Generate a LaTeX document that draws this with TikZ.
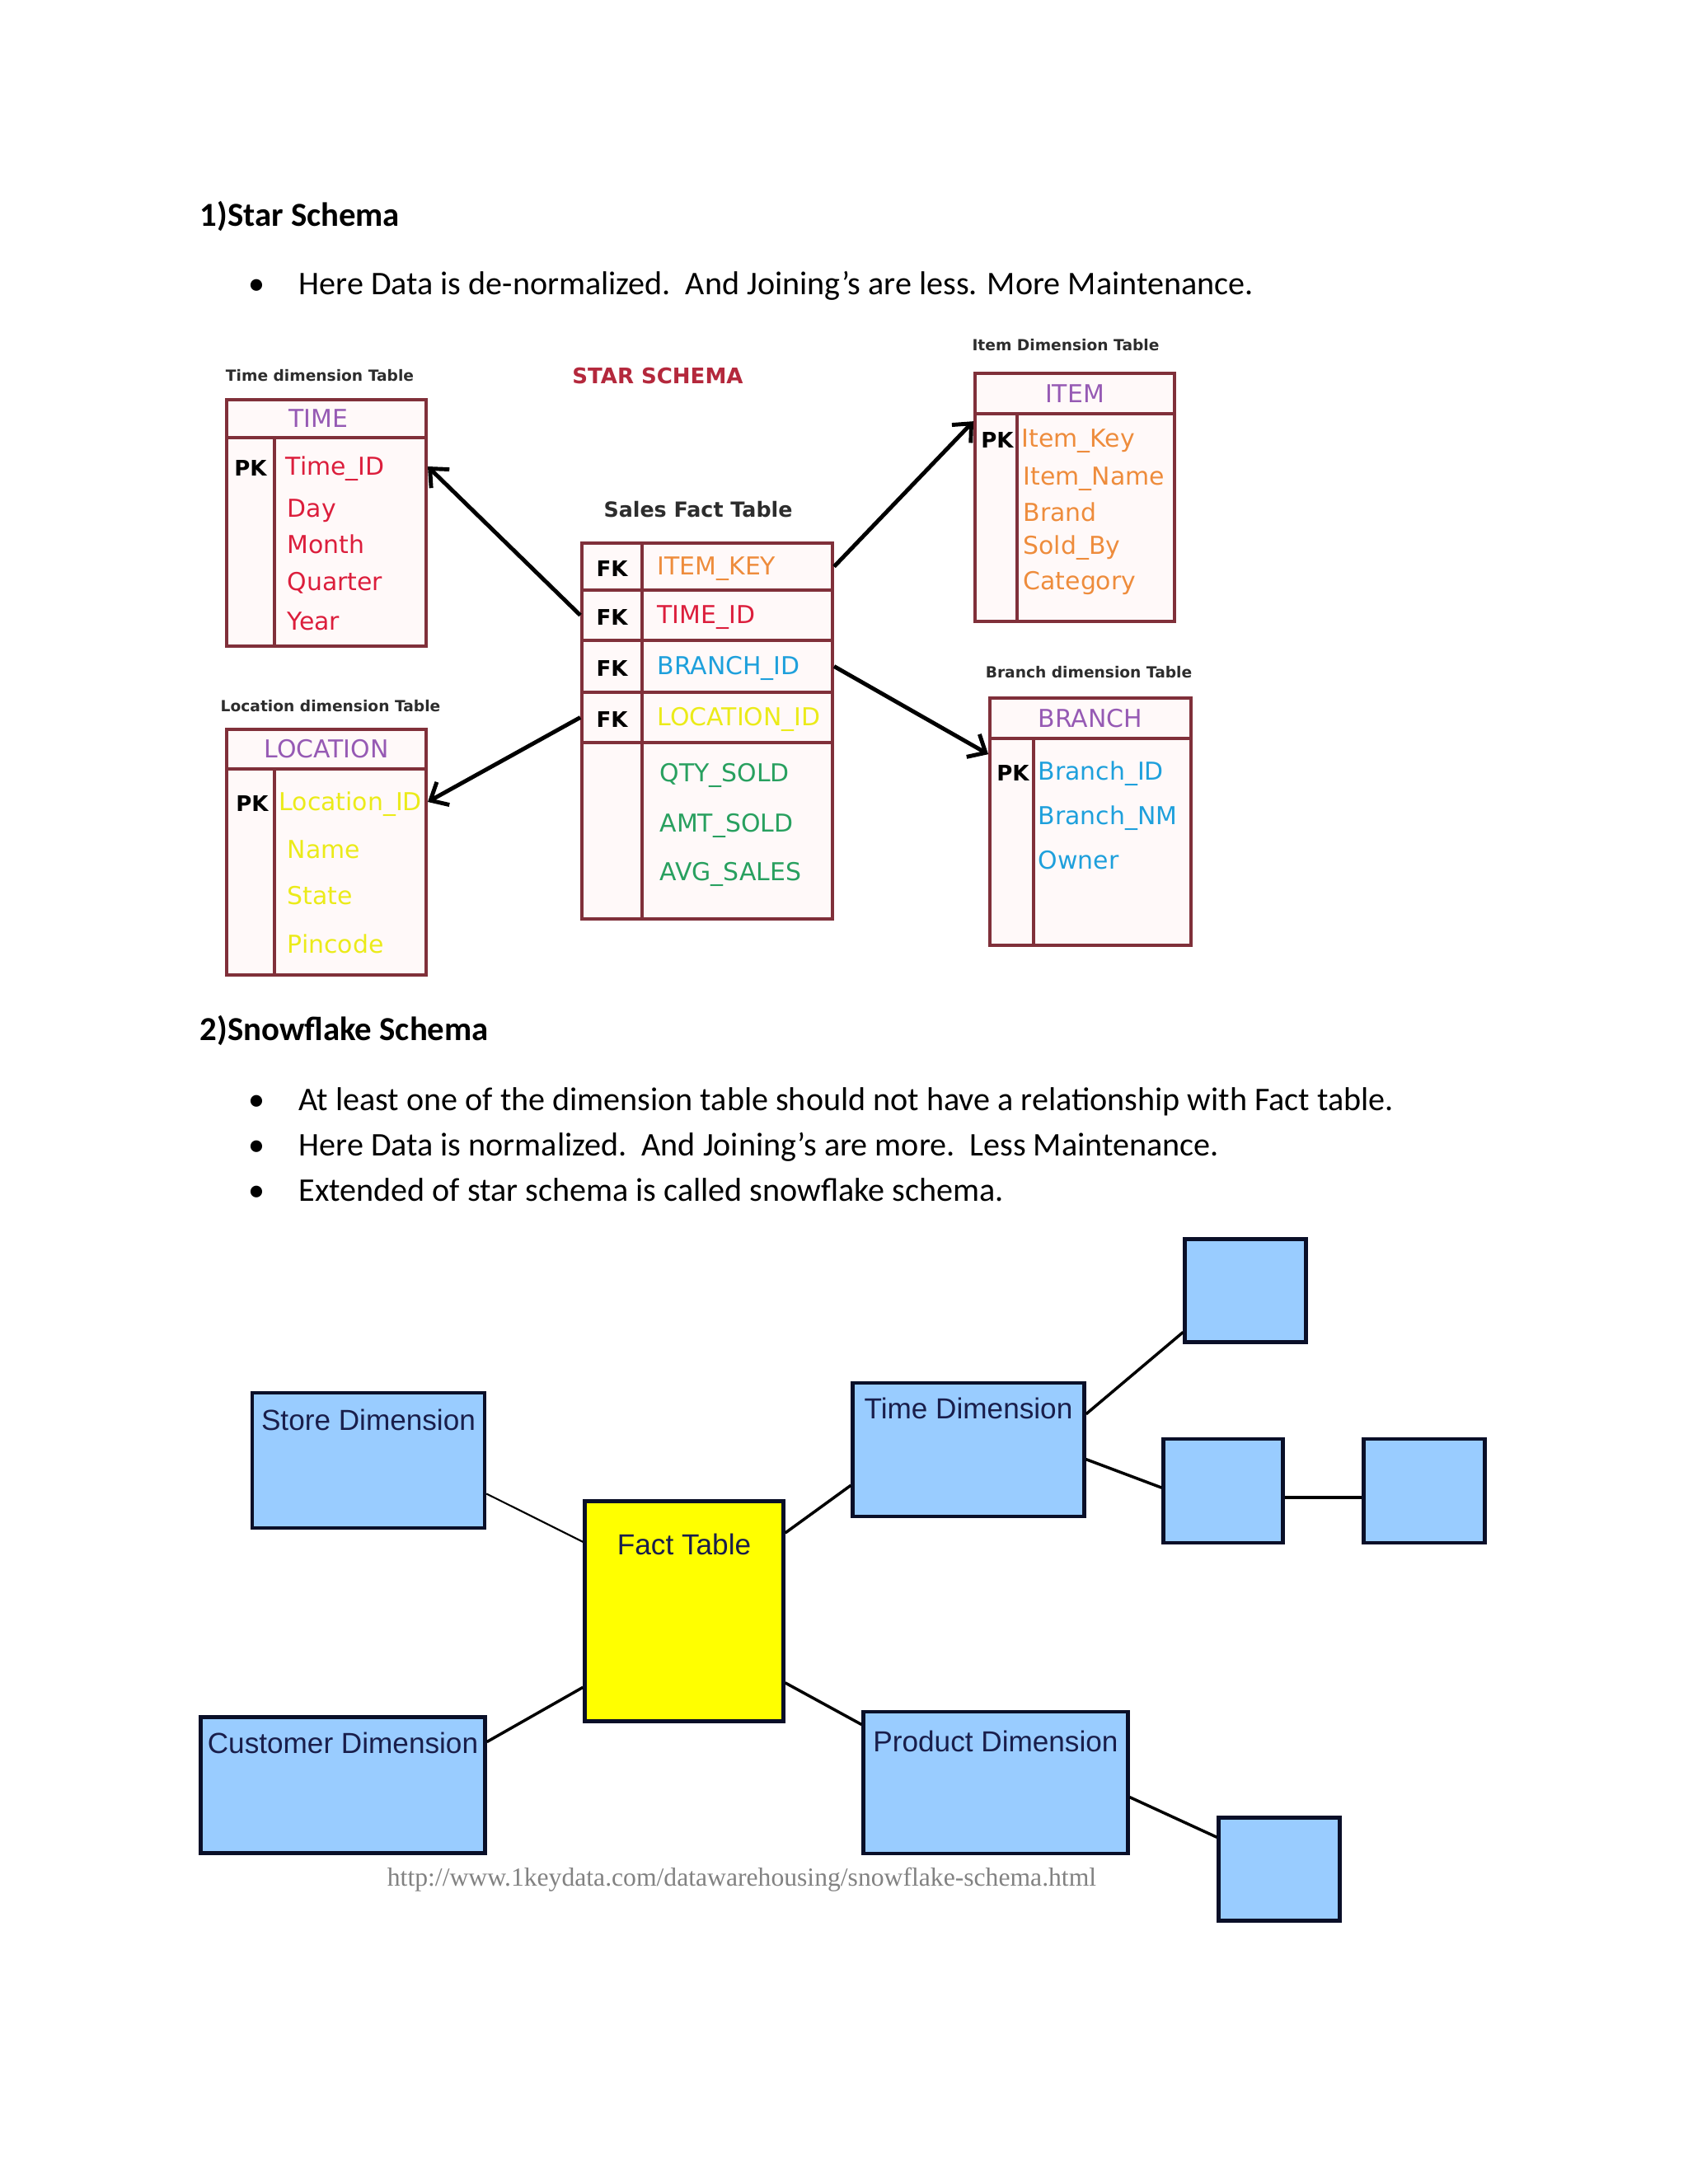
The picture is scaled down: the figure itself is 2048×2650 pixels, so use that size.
\documentclass[tikz,border=0pt]{standalone}
\usepackage{fontspec}
\setmainfont{Carlito}
\newfontfamily\schemafont{DejaVu Sans}
\newfontfamily\boxfont{Liberation Sans}
\newfontfamily\urlfont{Liberation Serif}
\usetikzlibrary{positioning,calc,arrows.meta}

\definecolor{tabline}{RGB}{128,48,58}
\definecolor{tabfill}{RGB}{255,249,249}
\definecolor{hdrpurple}{RGB}{150,90,180}
\definecolor{timered}{RGB}{220,30,60}
\definecolor{itemorange}{RGB}{238,140,60}
\definecolor{branchblue}{RGB}{30,160,220}
\definecolor{locyellow}{RGB}{235,235,25}
\definecolor{measgreen}{RGB}{40,160,95}
\definecolor{titlegray}{RGB}{45,45,45}
\definecolor{starred}{RGB}{180,40,60}
\definecolor{dimblue}{RGB}{153,204,255}
\definecolor{dimedge}{RGB}{10,15,40}
\definecolor{dimtext}{RGB}{25,30,75}
\definecolor{factyellow}{RGB}{255,255,0}
\definecolor{srcgray}{RGB}{130,130,130}

\begin{document}
\begin{tikzpicture}[x=0.01cm, y=-0.01cm,
    bodytext/.style={anchor=base west, inner sep=0pt, font=\fontsize{11.4}{13}\selectfont},
    headtext/.style={bodytext, font=\fontsize{11.6}{13}\selectfont\bfseries},
    bulletmark/.style={anchor=base, inner sep=0pt, font=\fontsize{11.4}{13}\selectfont},
    tabcell/.style={draw=tabline, fill=tabfill, line width=1.1pt, inner sep=0pt},
    hdrcell/.style={tabcell, text=hdrpurple, font=\schemafont\fontsize{8.5}{10}\selectfont},
    fieldtext/.style={anchor=west, inner sep=0pt, text height=1.7ex, text depth=0.5ex, font=\schemafont\fontsize{8.5}{10}\selectfont},
    keytext/.style={inner sep=0pt, text height=1.9ex, text depth=0.5ex, font=\schemafont\bfseries\fontsize{7.4}{9}\selectfont},
    tabtitle/.style={inner sep=0pt, text=titlegray, font=\schemafont\bfseries\fontsize{5.3}{6}\selectfont},
    relarrow/.style={line width=1.4pt, -{Straight Barb[length=5pt,width=9pt]}},
    dimbox/.style={draw=dimedge, fill=dimblue, line width=1.2pt, inner sep=0pt},
    dimlabel/.style={inner sep=0pt, text=dimtext, font=\boxfont\fontsize{10}{12}\selectfont},
    link/.style={draw, line width=1pt}]

\fill[white] (0,0) rectangle (2048,2650);

% star schema text
\node[headtext] (h1) at (242,274) {1)Star Schema};
\node[bulletmark] (b1) at (311,357) {\textbullet};
\node[bodytext] (t1) at (362,357) {Here Data is de-normalized.\ \ And Joining’s are less. More Maintenance.};

\node[tabtitle] (timettl) at (388,456) {Time dimension Table};
\node[inner sep=0pt, text=starred, font=\schemafont\bfseries\fontsize{7.4}{9}\selectfont] (startitle) at (798,456) {STAR SCHEMA};
\node[tabtitle] (itemttl) at (1293,419) {Item Dimension Table};
\node[inner sep=0pt, text=titlegray, font=\schemafont\bfseries\fontsize{7.2}{9}\selectfont] (factttl) at (847,618) {Sales Fact Table};
\node[tabtitle] (branchttl) at (1321,816) {Branch dimension Table};
\node[tabtitle] (locttl) at (401,857) {Location dimension Table};

% time dimension
\node[hdrcell, minimum width=2.42cm, minimum height=0.46cm] (timeh) at (396,508) {};
\node[text=hdrpurple, inner sep=0pt, font=\schemafont\fontsize{8.5}{10}\selectfont] (timehl) at (386,508) {TIME};
\node[tabcell, minimum width=0.58cm, minimum height=2.53cm] (timek) at (304,657.5) {};
\node[tabcell, minimum width=1.84cm, minimum height=2.53cm] (timef) at (425,657.5) {};
\node[keytext] (timepk) at (304,566) {PK};
\node[fieldtext, text=timered] (timeid) at (346,566) {Time\_ID};
\foreach \y/\f [count=\i] in {617/Day, 661/Month, 706/Quarter, 754/Year}
  \node[fieldtext, text=timered] (timef\i) at (348,\y) {\f};

% item dimension
\node[hdrcell, minimum width=2.42cm, minimum height=0.49cm] (itemh) at (1304,477.5) {ITEM};
\node[tabcell, minimum width=0.51cm, minimum height=2.52cm] (itemk) at (1208.5,628) {};
\node[tabcell, minimum width=1.91cm, minimum height=2.52cm] (itemf) at (1329.5,628) {};
\node[keytext] (itempk) at (1210,532) {PK};
\node[fieldtext, text=itemorange] (itemid) at (1239,532) {Item\_Key};
\foreach \y/\f [count=\i] in {578/Item\_Name, 622/Brand, 662/Sold\_By, 705/Category}
  \node[fieldtext, text=itemorange] (itemf\i) at (1241,\y) {\f};

% branch dimension
\node[hdrcell, minimum width=2.44cm, minimum height=0.49cm] (branchh) at (1323,871.5) {BRANCH};
\node[tabcell, minimum width=0.53cm, minimum height=2.51cm] (branchk) at (1227.5,1021.5) {};
\node[tabcell, minimum width=1.91cm, minimum height=2.51cm] (branchf) at (1349.5,1021.5) {};
\node[keytext] (branchpk) at (1229,936) {PK};
\foreach \y/\f [count=\i] in {936/Branch\_ID, 990/Branch\_NM, 1044/Owner}
  \node[fieldtext, text=branchblue] (branchf\i) at (1259,\y) {\f};

% location dimension
\node[hdrcell, minimum width=2.42cm, minimum height=0.48cm] (loch) at (396,909) {LOCATION};
\node[tabcell, minimum width=0.58cm, minimum height=2.50cm] (lock) at (304,1058) {};
\node[tabcell, minimum width=1.84cm, minimum height=2.50cm] (locf) at (425,1058) {};
\node[keytext] (locpk) at (306,973) {PK};
\node[fieldtext, text=locyellow] (locid) at (338,973) {Location\_ID};
\foreach \y/\f [count=\i] in {1031/Name, 1087/State, 1146/Pincode}
  \node[fieldtext, text=locyellow] (locf\i) at (348,\y) {\f};

% sales fact table
\foreach \i/\yc/\h/\f/\c in {1/687.5/0.57/ITEM\_KEY/itemorange, 2/746.5/0.61/TIME\_ID/timered,
    3/808.5/0.63/BRANCH\_ID/branchblue, 4/870.5/0.61/LOCATION\_ID/locyellow}{
  \node[tabcell, minimum width=0.73cm, minimum height=\h cm] (fk\i) at (742.5,\yc) {};
  \node[tabcell, minimum width=2.31cm, minimum height=\h cm] (fd\i) at (894.5,\yc) {};
  \node[keytext] (fkt\i) at (fk\i) {FK};
  \node[fieldtext, text=\c] (fdt\i) at (797,\yc) {\f};
}
\node[tabcell, minimum width=0.73cm, minimum height=2.14cm] (fkb) at (742.5,1008) {};
\node[tabcell, minimum width=2.31cm, minimum height=2.14cm] (fdb) at (894.5,1008) {};
\foreach \y/\f [count=\i] in {938/QTY\_SOLD, 999/AMT\_SOLD, 1058/AVG\_SALES}
  \node[fieldtext, text=measgreen] (fm\i) at (800,\y) {\f};

\draw[relarrow] (fk2.west) -- (timef.east |- timeid);
\draw[relarrow] (fd1.east) -- (itemk.west |- itempk.north);
\draw[relarrow] (fd3.east) -- (branchk.west |- branchpk.north);
\draw[relarrow] (fk4.west) -- (locf.east |- locid);

% snowflake schema text
\node[headtext] (h2) at (242,1262) {2)Snowflake Schema};
\foreach \y/\s [count=\i] in {1347/At least one of the dimension table should not have a relationship with Fact table.,
    1402/Here Data is normalized.\ \ And Joining’s are more.\ \ Less Maintenance.,
    1457/Extended of star schema is called snowflake schema.}{
  \node[bulletmark] (sb\i) at (311,\y) {\textbullet};
  \node[bodytext] (st\i) at (362,\y) {\s};
}

% snowflake diagram
\node[dimbox, minimum width=2.82cm, minimum height=1.64cm] (store) at (447,1772) {};
\node[dimbox, minimum width=3.45cm, minimum height=1.65cm] (customer) at (416,2166) {};
\node[dimbox, fill=factyellow, minimum width=2.41cm, minimum height=2.67cm] (sffact) at (830,1955) {};
\node[dimbox, minimum width=2.81cm, minimum height=1.62cm] (sftime) at (1175,1759) {};
\node[dimbox, minimum width=3.21cm, minimum height=1.72cm] (product) at (1208,2163) {};
\node[dimbox, minimum width=1.47cm, minimum height=1.25cm] (sub1) at (1511,1566) {};
\node[dimbox, minimum width=1.45cm, minimum height=1.26cm] (sub2) at (1484,1809) {};
\node[dimbox, minimum width=1.47cm, minimum height=1.26cm] (sub3) at (1728,1809) {};
\node[dimbox, minimum width=1.47cm, minimum height=1.25cm] (sub4) at (1552,2268) {};

\node[dimlabel, below=0.21cm of store.north] (storel) {Store Dimension};
\node[dimlabel, below=0.20cm of customer.north] (customerl) {Customer Dimension};
\node[dimlabel, below=0.41cm of sffact.north] (sffactl) {Fact Table};
\node[dimlabel, below=0.19cm of sftime.north] (sftimel) {Time Dimension};
\node[dimlabel, below=0.24cm of product.north] (productl) {Product Dimension};

\path[link]
  ($(store.north east)!.74!(store.south east)$) edge[line width=0.6pt] ($(sffact.north west)!.19!(sffact.south west)$)
  ($(customer.north east)!.19!(customer.south east)$) edge ($(sffact.north west)!.84!(sffact.south west)$)
  ($(sffact.north east)!.15!(sffact.south east)$) edge ($(sftime.north west)!.76!(sftime.south west)$)
  ($(sffact.north east)!.82!(sffact.south east)$) edge ($(product.north west)!.10!(product.south west)$)
  ($(sftime.north east)!.24!(sftime.south east)$) edge ($(sub1.north west)!.89!(sub1.south west)$)
  ($(sftime.north east)!.57!(sftime.south east)$) edge ($(sub2.north west)!.47!(sub2.south west)$)
  ($(sub2.north east)!.56!(sub2.south east)$) edge ($(sub3.north west)!.56!(sub3.south west)$)
  ($(product.north east)!.60!(product.south east)$) edge ($(sub4.north west)!.20!(sub4.south west)$);

\node[inner sep=0pt, text=srcgray, font=\urlfont\fontsize{9}{11}\selectfont] (src) at (900,2281) {http://www.1keydata.com/datawarehousing/snowflake-schema.html};

\end{tikzpicture}
\end{document}
